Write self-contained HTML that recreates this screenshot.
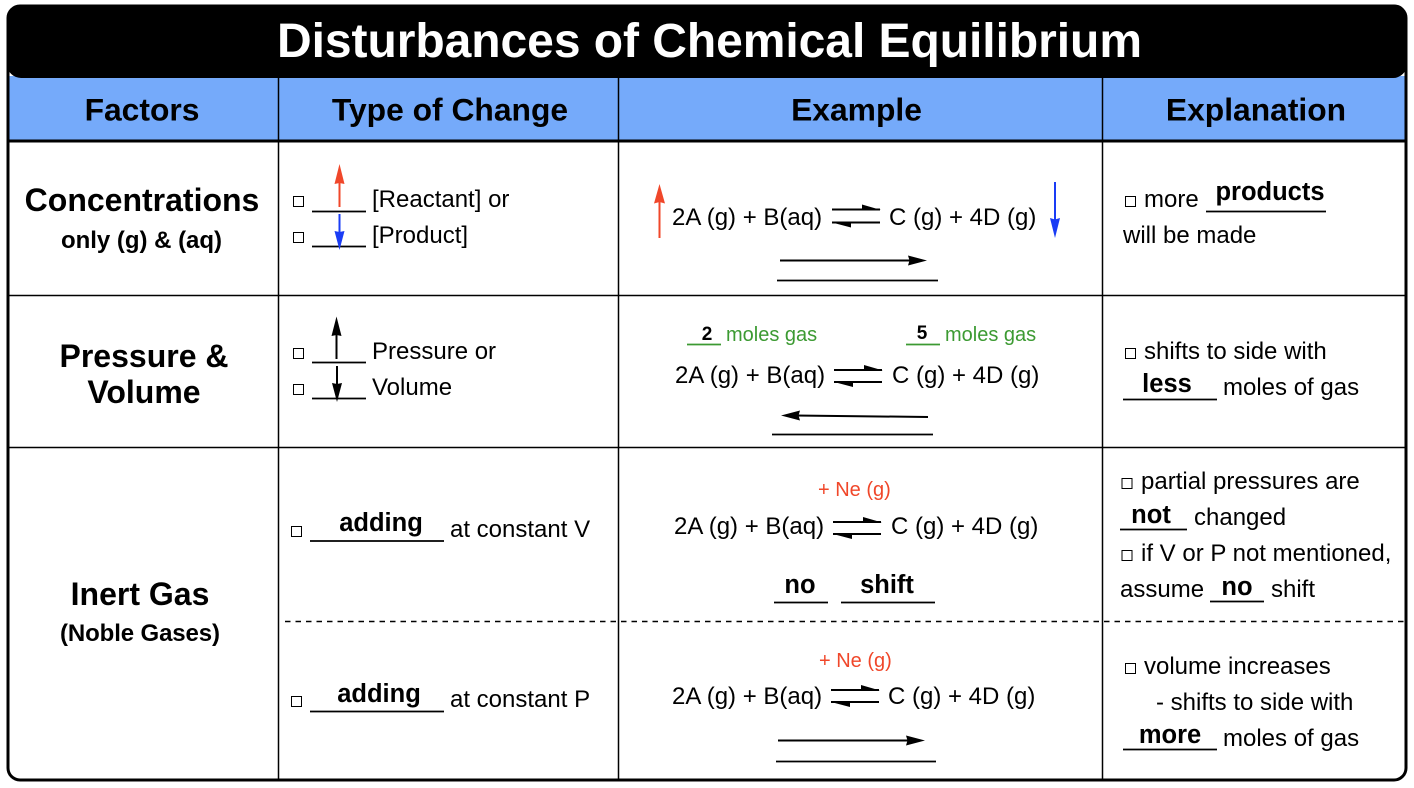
<!DOCTYPE html>
<html><head><meta charset="utf-8"><style>
html,body{margin:0;padding:0;background:#fff}
svg{display:block}
text{font-family:"Liberation Sans",Arial,sans-serif;fill:#000}
.b{font-weight:bold}
.t{font-size:24px}
.g{fill:#3c9a32;font-size:20px}
.r{fill:#f0472a;font-size:20px}
</style></head><body>
<svg width="1414" height="788" viewBox="0 0 1414 788" xmlns="http://www.w3.org/2000/svg">
<defs>
<g id="eq"><path d="M0 0H48M0 12H48" fill="none" stroke="#000" stroke-width="2"/><path d="M30 -5L49 0.500L30 0.500ZM0 12L19 11.500L19 17Z" fill="#000"/></g>
<g id="eq13"><path d="M0 0H48M0 13H48" fill="none" stroke="#000" stroke-width="2"/><path d="M30 -5L49 0.500L30 0.500ZM0 13L19 12.500L19 18Z" fill="#000"/></g>
<path id="box" d="M0 0h10v10h-10z" fill="#fff" stroke="#000" stroke-width="1"/>
</defs>
<rect x="8" y="6" width="1398" height="774" rx="12" fill="#fff"/>
<rect x="9" y="76" width="1396" height="64" fill="#75aafa"/>
<rect x="7" y="5" width="1400" height="73" rx="14" fill="#000"/>
<text x="709.500" y="57" text-anchor="middle" style="fill:#fff;font-size:48px;font-weight:bold" textLength="865" lengthAdjust="spacing">Disturbances of Chemical Equilibrium</text>

<g stroke="#000" fill="none">
<path d="M8 141H1406" stroke-width="3"/>
<path d="M8 295.500H1406M8 447.500H1406" stroke-width="1.500"/>
<path d="M278.500 78V780M618.500 78V780M1102.500 78V780" stroke-width="1.500"/>
<path d="M285 621.500H1404" stroke-width="1.500" stroke-dasharray="5.500 5"/>
<rect x="8" y="6" width="1398" height="774" rx="12" stroke-width="3"/>
</g>

<g class="b" style="font-size:31.800px" text-anchor="middle">
<text x="142" y="120.500">Factors</text>
<text x="450" y="120.500">Type of Change</text>
<text x="856.500" y="120.500">Example</text>
<text x="1256" y="120.500">Explanation</text>
</g>

<g class="b" text-anchor="middle">
<text x="142" y="211" style="font-size:32px">Concentrations</text>
<text x="141.500" y="248" style="font-size:24px" textLength="161" lengthAdjust="spacing">only (g) &amp; (aq)</text>
<text x="144" y="367" style="font-size:32px">Pressure &amp;</text>
<text x="144" y="403" style="font-size:32px">Volume</text>
<text x="140" y="605" style="font-size:32px">Inert Gas</text>
<text x="140" y="641" style="font-size:24px" textLength="160" lengthAdjust="spacing">(Noble Gases)</text>
</g>

<!-- Type of change -->
<use href="#box" x="293.500" y="196.500"/><use href="#box" x="293.500" y="232.500"/>
<use href="#box" x="293.500" y="348.500"/><use href="#box" x="293.500" y="384.500"/>
<use href="#box" x="291.500" y="526.500"/><use href="#box" x="291.500" y="696.500"/>
<g stroke="#000" stroke-width="1.800" fill="none">
<path d="M312 211.500H366M312 246.500H366M312 362.500H366M312 398.500H366M310 541H444M310 711.500H444"/>
</g>
<text class="t" x="372" y="207">[Reactant] or</text>
<text class="t" x="372" y="243">[Product]</text>
<text class="t" x="372" y="359">Pressure or</text>
<text class="t" x="372" y="395">Volume</text>
<text class="t" x="450" y="537">at constant V</text>
<text class="t" x="450" y="707">at constant P</text>
<text class="b" x="381" y="531" text-anchor="middle" style="font-size:25.500px">adding</text>
<text class="b" x="379" y="702" text-anchor="middle" style="font-size:25.500px">adding</text>

<!-- vertical arrows -->
<path d="M339.500 207V180" stroke="#f0472a" stroke-width="2"/><path d="M339.500 164L344.500 184L339.500 183L334.500 184Z" fill="#f0472a"/>
<path d="M339.500 214V236" stroke="#1a3cf5" stroke-width="2"/><path d="M339.500 250L334.500 231L339.500 232L344.500 231Z" fill="#1a3cf5"/>
<path d="M336.500 359V330" stroke="#000" stroke-width="2"/><path d="M336.500 316.500L341.500 336L336.500 335L331.500 336Z" fill="#000"/>
<path d="M337 366V388" stroke="#000" stroke-width="2"/><path d="M337 402L332 383L337 384L342 383Z" fill="#000"/>

<!-- Example 1 -->
<path d="M659.500 238V198" stroke="#f0472a" stroke-width="2"/><path d="M659.500 184L665 203.500L659.500 202L654 203.500Z" fill="#f0472a"/>
<path d="M1055 182V222" stroke="#1a3cf5" stroke-width="2"/><path d="M1055 238L1050 218L1055 219.500L1060 218Z" fill="#1a3cf5"/>
<text class="t" x="672" y="225">2A (g) + B(aq)</text>
<use href="#eq13" x="832" y="209.500"/>
<text class="t" x="889" y="225">C (g) + 4D (g)</text>
<path d="M780 260.500H915" stroke="#000" stroke-width="2"/><path d="M927 260.500L908 255.500L909.500 260.500L908 265.500Z" fill="#000"/>
<path d="M777 280.500H938" stroke="#000" stroke-width="1.800"/>

<!-- Example 2 -->
<path d="M687 344.500H721M906 344.500H940" stroke="#3c9a32" stroke-width="1.800"/>
<text class="b" x="707" y="340" text-anchor="middle" style="font-size:19px">2</text>
<text class="b" x="922" y="339" text-anchor="middle" style="font-size:19px">5</text>
<text class="g" x="726" y="341">moles gas</text>
<text class="g" x="945" y="341">moles gas</text>
<text class="t" x="675" y="383">2A (g) + B(aq)</text>
<use href="#eq" x="834" y="370"/>
<text class="t" x="892" y="383">C (g) + 4D (g)</text>
<path d="M795 415.500L928 417" stroke="#000" stroke-width="2"/><path d="M781 415.500L800 410.500L798.500 415.500L800 420.500Z" fill="#000"/>
<path d="M772 434.500H933" stroke="#000" stroke-width="1.800"/>

<!-- Example 3 -->
<text class="r" x="818" y="496">+ Ne (g)</text>
<text class="t" x="674" y="534">2A (g) + B(aq)</text>
<use href="#eq" x="833" y="522"/>
<text class="t" x="891" y="534">C (g) + 4D (g)</text>
<text class="b" x="800" y="593" text-anchor="middle" style="font-size:25.500px">no</text>
<text class="b" x="887" y="593" text-anchor="middle" style="font-size:25.500px">shift</text>
<path d="M774 602.500H828M841 602.500H935" stroke="#000" stroke-width="1.800"/>

<!-- Example 4 -->
<text class="r" x="819" y="667">+ Ne (g)</text>
<text class="t" x="672" y="704">2A (g) + B(aq)</text>
<use href="#eq" x="831" y="690"/>
<text class="t" x="888" y="704">C (g) + 4D (g)</text>
<path d="M778 740.500H912" stroke="#000" stroke-width="2"/><path d="M925 740.500L906 735.500L907.500 740.500L906 745.500Z" fill="#000"/>
<path d="M776 761.500H936" stroke="#000" stroke-width="1.800"/>

<!-- Explanation -->
<use href="#box" x="1125.500" y="196.500"/>
<text class="t" x="1144" y="207">more</text>
<text class="b" x="1270" y="200" text-anchor="middle" style="font-size:25.500px">products</text>
<path d="M1206 211.500H1326" stroke="#000" stroke-width="1.800"/>
<text class="t" x="1123" y="243">will be made</text>

<use href="#box" x="1125.500" y="348.500"/>
<text class="t" x="1144" y="359">shifts to side with</text>
<text class="b" x="1167" y="392" text-anchor="middle" style="font-size:25.500px">less</text>
<path d="M1123 399.500H1217" stroke="#000" stroke-width="1.800"/>
<text class="t" x="1223" y="395">moles of gas</text>

<use href="#box" x="1122" y="478.500"/>
<text class="t" x="1141" y="489">partial pressures are</text>
<text class="b" x="1151" y="523" text-anchor="middle" style="font-size:25.500px">not</text>
<path d="M1120 529.500H1187" stroke="#000" stroke-width="1.800"/>
<text class="t" x="1194" y="525">changed</text>
<use href="#box" x="1122" y="550.500"/>
<text class="t" x="1141" y="561">if V or P not mentioned,</text>
<text class="t" x="1120" y="597">assume</text>
<text class="b" x="1237" y="595" text-anchor="middle" style="font-size:25.500px">no</text>
<path d="M1210 601.500H1264" stroke="#000" stroke-width="1.800"/>
<text class="t" x="1271" y="597">shift</text>

<use href="#box" x="1125.500" y="663.500"/>
<text class="t" x="1144" y="674">volume increases</text>
<text class="t" x="1156" y="710">- shifts to side with</text>
<text class="b" x="1170" y="743" text-anchor="middle" style="font-size:25.500px">more</text>
<path d="M1123 749.500H1217" stroke="#000" stroke-width="1.800"/>
<text class="t" x="1223" y="746">moles of gas</text>
</svg>
</body></html>
